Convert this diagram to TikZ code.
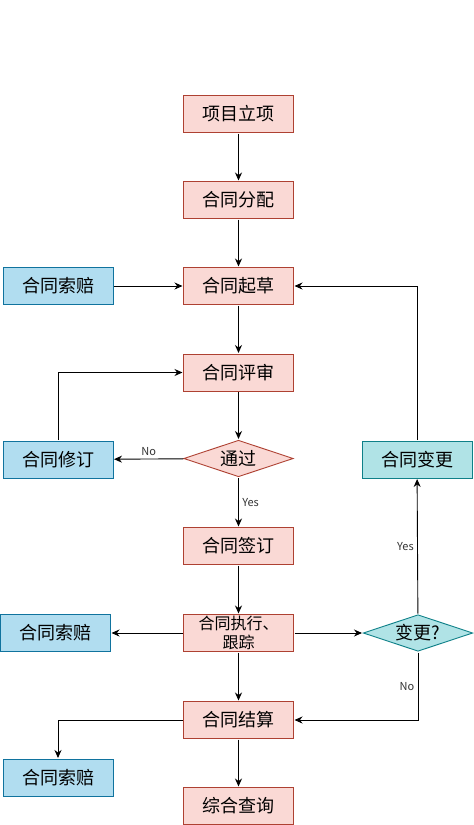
\documentclass[tikz,border=0pt]{standalone}
\usepackage{fontspec}
\setmainfont{Noto Sans CJK SC}
\usetikzlibrary{shapes.geometric,arrows.meta}
\definecolor{pinkfill}{HTML}{FAD9D5}
\definecolor{pinkline}{HTML}{AE4132}
\definecolor{bluefill}{HTML}{B1DDF0}
\definecolor{blueline}{HTML}{10739E}
\definecolor{tealfill}{HTML}{B0E3E6}
\definecolor{tealline}{HTML}{0E8088}
\begin{document}
\begin{tikzpicture}[x=1pt,y=-1pt,
    box/.style={draw, line width=0.9pt, minimum width=110pt, minimum height=37pt, inner sep=0pt, outer sep=1pt, font=\fontsize{18}{20}\selectfont},
    pinkbox/.style={box, fill=pinkfill, draw=pinkline},
    bluebox/.style={box, fill=bluefill, draw=blueline},
    tealbox/.style={box, fill=tealfill, draw=tealline},
    pinkdia/.style={pinkbox, diamond, aspect=3},
    tealdia/.style={tealbox, diamond, aspect=3},
    arr/.style={-{Stealth[length=8pt,width=7pt]}, line width=0.9pt},
    lbl/.style={font=\fontsize{11}{12}\selectfont, text=black!80}]
    \useasboundingbox (0,0) rectangle (474,825);

    % main column
    \node[pinkbox] (proj) at (238.5,114) {项目立项};
    \node[pinkbox] (alloc) at (238.5,200) {合同分配};
    \node[pinkbox] (draft) at (238.5,286) {合同起草};
    \node[pinkbox] (review) at (238.5,372.5) {合同评审};
    \node[pinkdia] (pass) at (238.5,458.5) {通过};
    \node[pinkbox] (sign) at (238.5,546) {合同签订};
    \node[pinkbox, align=center, font=\fontsize{16}{19}\selectfont] (exec) at (238.5,633) {合同执行、\\跟踪};
    \node[pinkbox] (settle) at (238.5,720) {合同结算};
    \node[pinkbox] (query) at (238.5,806) {综合查询};

    % side boxes
    \node[bluebox] (claimA) at (58,286) {合同索赔};
    \node[bluebox] (revise) at (58,459.5) {合同修订};
    \node[bluebox] (claimB) at (55.5,633) {合同索赔};
    \node[bluebox] (claimC) at (58,777.5) {合同索赔};
    \node[tealbox] (change) at (417,459.5) {合同变更};
    \node[tealdia] (ask) at (418,633) {变更?};

    % connectors
    \draw[arr] (proj) -- (alloc);
    \draw[arr] (alloc) -- (draft);
    \draw[arr] (claimA) -- (draft);
    \draw[arr] (draft) -- (review);
    \draw[arr] (review) -- (pass);
    \draw[arr] (pass) -- node[above, lbl] {No} (revise);
    \draw[arr] (revise) |- (review);
    \draw[arr] (pass) -- node[right, lbl] {Yes} (sign);
    \draw[arr] (sign) -- (exec);
    \draw[arr] (exec) -- (claimB);
    \draw[arr] (exec) -- (ask);
    \draw[arr] (ask) -- node[left, lbl] {Yes} (change);
    \draw[arr] (change) |- (draft);
    \draw[arr] (ask) |- node[pos=0.25, left, lbl] {No} (settle);
    \draw[arr] (exec) -- (settle);
    \draw[arr] (settle) -| (claimC);
    \draw[arr] (settle) -- (query);
\end{tikzpicture}
\end{document}
